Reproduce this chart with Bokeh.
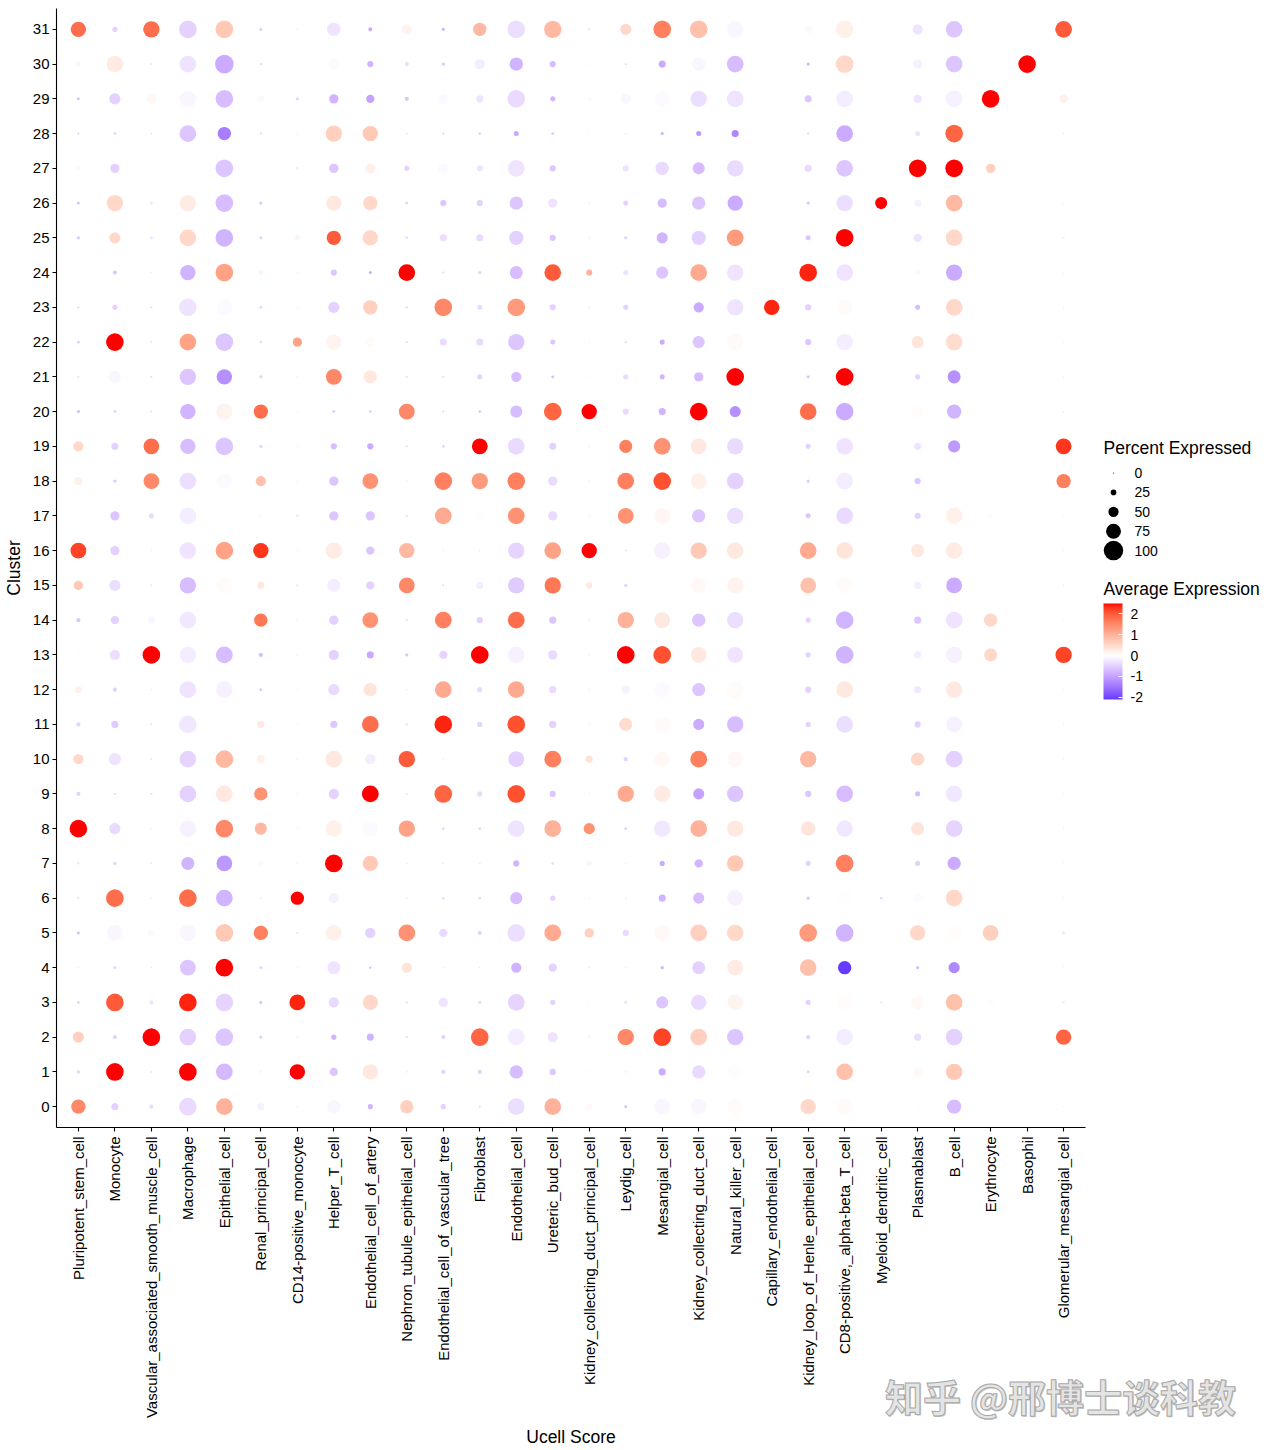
import math
from bokeh.plotting import figure
from bokeh.layouts import column, row
from bokeh.models import (ColumnDataSource, Range1d, LinearColorMapper,
                          ColorBar, FixedTicker, Div)
from bokeh.core.properties import value
from bokeh.embed import file_html
from bokeh.resources import INLINE

# ---------------- data ----------------
cell_types = [
    "Pluripotent_stem_cell", "Monocyte", "Vascular_associated_smooth_muscle_cell",
    "Macrophage", "Epithelial_cell", "Renal_principal_cell", "CD14-positive_monocyte",
    "Helper_T_cell", "Endothelial_cell_of_artery", "Nephron_tubule_epithelial_cell",
    "Endothelial_cell_of_vascular_tree", "Fibroblast", "Endothelial_cell",
    "Ureteric_bud_cell", "Kidney_collecting_duct_principal_cell", "Leydig_cell",
    "Mesangial_cell", "Kidney_collecting_duct_cell", "Natural_killer_cell",
    "Capillary_endothelial_cell", "Kidney_loop_of_Henle_epithelial_cell",
    "CD8-positive,_alpha-beta_T_cell", "Myeloid_dendritic_cell", "Plasmablast",
    "B_cell", "Erythrocyte", "Basophil", "Glomerular_mesangial_cell",
]
clusters = [str(i) for i in range(32)]

# percent expressed, one row per cluster (0..31), columns follow cell_types
pct_expressed = [
    [72, 33, 17, 90, 85, 33, 3, 67, 22, 67, 22, 6, 85, 85, 28, 12, 80, 80, 80, 1, 78, 80, 1, 33, 72, 1, 1, 3],
    [12, 90, 6, 90, 85, 3, 78, 40, 78, 3, 17, 17, 67, 28, 3, 3, 33, 67, 78, 1, 10, 85, 1, 40, 83, 1, 1, 3],
    [55, 17, 90, 85, 90, 10, 3, 22, 33, 6, 17, 90, 85, 50, 3, 83, 90, 85, 83, 1, 17, 83, 1, 33, 85, 1, 1, 78],
    [10, 90, 17, 90, 90, 12, 80, 50, 78, 6, 45, 12, 85, 22, 3, 10, 60, 78, 80, 1, 22, 80, 6, 65, 85, 22, 1, 10],
    [3, 10, 3, 80, 90, 10, 3, 65, 6, 50, 3, 3, 50, 40, 4, 3, 12, 65, 80, 1, 85, 67, 1, 12, 55, 1, 1, 3],
    [12, 80, 33, 83, 90, 72, 6, 80, 50, 85, 40, 17, 90, 85, 45, 28, 80, 85, 83, 1, 90, 90, 1, 78, 80, 80, 1, 10],
    [6, 90, 3, 90, 85, 3, 67, 50, 40, 3, 10, 10, 60, 22, 3, 3, 33, 55, 80, 1, 12, 83, 10, 50, 85, 1, 1, 3],
    [6, 12, 6, 65, 80, 22, 10, 90, 78, 3, 4, 4, 28, 10, 22, 3, 22, 40, 83, 1, 22, 90, 1, 22, 67, 1, 1, 3],
    [90, 55, 3, 83, 90, 60, 6, 83, 78, 83, 10, 10, 85, 85, 55, 10, 83, 85, 83, 1, 72, 83, 1, 65, 85, 1, 1, 3],
    [17, 6, 6, 85, 85, 67, 3, 50, 85, 6, 90, 22, 90, 28, 3, 83, 83, 55, 83, 1, 28, 85, 1, 22, 83, 1, 1, 3],
    [50, 60, 6, 85, 90, 40, 3, 85, 50, 83, 3, 33, 80, 85, 33, 17, 78, 85, 80, 1, 83, 60, 1, 67, 85, 1, 1, 3],
    [17, 33, 6, 90, 50, 33, 3, 33, 85, 6, 90, 22, 90, 33, 3, 65, 80, 55, 83, 1, 22, 85, 1, 28, 80, 1, 1, 3],
    [33, 17, 3, 85, 85, 10, 6, 55, 67, 3, 85, 22, 85, 33, 3, 40, 80, 65, 85, 1, 28, 85, 1, 33, 83, 1, 1, 4],
    [33, 50, 90, 83, 85, 17, 10, 50, 33, 12, 40, 90, 85, 45, 3, 90, 90, 80, 80, 1, 22, 90, 1, 33, 83, 65, 1, 83],
    [17, 40, 33, 85, 65, 67, 3, 45, 80, 6, 85, 28, 85, 33, 4, 83, 80, 67, 83, 1, 22, 90, 1, 33, 85, 67, 1, 10],
    [45, 55, 6, 83, 83, 33, 6, 65, 40, 80, 6, 33, 83, 83, 28, 12, 50, 78, 83, 1, 80, 78, 1, 33, 80, 1, 1, 4],
    [80, 45, 3, 85, 90, 78, 3, 83, 40, 78, 3, 3, 83, 85, 78, 6, 83, 83, 85, 1, 85, 85, 1, 65, 85, 1, 1, 4],
    [1, 45, 22, 85, 80, 22, 10, 45, 45, 6, 85, 50, 85, 45, 3, 80, 80, 67, 83, 1, 22, 85, 1, 28, 83, 22, 1, 10],
    [40, 12, 80, 85, 78, 50, 3, 45, 80, 3, 90, 83, 90, 45, 3, 85, 90, 80, 85, 1, 12, 85, 1, 28, 60, 1, 1, 72],
    [50, 33, 80, 78, 90, 12, 3, 28, 28, 6, 10, 80, 85, 33, 4, 65, 85, 80, 83, 1, 22, 85, 1, 33, 60, 1, 1, 80],
    [12, 10, 6, 78, 83, 72, 3, 10, 6, 80, 6, 10, 60, 90, 78, 28, 33, 90, 55, 1, 85, 90, 1, 60, 72, 1, 1, 4],
    [6, 60, 6, 83, 78, 12, 3, 80, 67, 6, 6, 22, 50, 10, 10, 22, 22, 45, 90, 1, 12, 90, 1, 22, 65, 1, 1, 3],
    [12, 90, 6, 85, 90, 10, 45, 78, 50, 6, 33, 33, 83, 22, 3, 6, 22, 60, 85, 1, 28, 83, 1, 60, 85, 1, 1, 4],
    [6, 22, 6, 90, 80, 10, 10, 55, 72, 6, 90, 22, 90, 28, 4, 22, 1, 50, 83, 78, 28, 80, 1, 22, 85, 1, 1, 3],
    [1, 17, 6, 78, 90, 22, 3, 28, 10, 85, 6, 12, 65, 85, 28, 22, 60, 85, 83, 1, 90, 85, 1, 22, 83, 1, 1, 3],
    [12, 55, 12, 85, 90, 12, 22, 72, 78, 10, 33, 33, 72, 28, 10, 12, 55, 72, 85, 1, 22, 90, 1, 40, 85, 1, 1, 6],
    [12, 83, 10, 83, 90, 12, 1, 78, 72, 10, 28, 28, 67, 45, 3, 22, 45, 67, 78, 1, 12, 83, 60, 33, 85, 1, 1, 4],
    [22, 45, 33, 67, 90, 1, 10, 45, 50, 22, 50, 28, 85, 28, 2, 28, 67, 60, 83, 1, 33, 85, 1, 90, 90, 45, 1, 10],
    [6, 10, 4, 85, 67, 6, 17, 83, 78, 4, 6, 10, 22, 10, 3, 3, 12, 22, 33, 1, 6, 85, 1, 22, 90, 2, 1, 3],
    [12, 55, 50, 83, 90, 33, 12, 45, 40, 17, 50, 33, 90, 22, 12, 50, 78, 83, 85, 1, 33, 85, 1, 40, 85, 90, 1, 40],
    [22, 85, 6, 85, 95, 6, 3, 60, 28, 17, 12, 50, 67, 28, 3, 5, 33, 67, 85, 1, 12, 90, 1, 45, 85, 1, 90, 3],
    [78, 22, 83, 90, 90, 10, 3, 67, 17, 50, 12, 67, 90, 88, 6, 55, 90, 90, 85, 1, 40, 90, 1, 50, 85, 1, 2, 85],
]

# scaled average expression, same layout
avg_expression = [
    [1.5, -0.5, -0.4, -0.4, 1.0, -0.15, -0.2, -0.1, -0.8, 0.6, -0.5, -0.4, -0.35, 1.0, 0.1, -0.6, -0.1, -0.1, 0.05, 0, 0.5, 0.08, 0, -0.02, -0.7, 0, 0, -0.2],
    [-0.5, 2.5, -0.3, 2.5, -0.75, -0.3, 2.5, -0.6, 0.3, -0.3, -0.5, -0.5, -0.7, -0.6, -0.2, -0.3, -0.9, -0.4, 0.03, 0, -0.5, 0.8, 0, 0.1, 0.7, 0, 0, -0.2],
    [0.6, -0.5, 2.5, -0.5, -0.6, -0.6, -0.3, -0.8, -0.8, -0.4, -0.5, 1.9, -0.2, -0.3, -0.3, 1.5, 2.2, 0.6, -0.6, 0, -0.5, -0.2, 0, -0.35, -0.5, 0, 0, 1.9],
    [-0.5, 2.0, -0.3, 2.4, -0.45, -0.6, 2.4, -0.4, 0.5, -0.4, -0.3, -0.4, -0.45, -0.5, -0.2, -0.4, -0.6, -0.4, 0.15, 0, -0.5, 0.03, -0.3, 0.1, 0.8, 0.05, 0, -0.2],
    [-0.3, -0.5, -0.3, -0.6, 2.5, -0.5, -0.2, -0.3, -0.8, 0.35, -0.3, -0.3, -0.8, -0.5, -0.3, -0.3, -0.8, -0.5, 0.25, 0, 0.8, -2.1, 0, -0.7, -1.3, 0, 0, -0.2],
    [-0.6, -0.1, -0.05, -0.1, 0.7, 1.6, -0.3, 0.2, -0.5, 1.4, -0.4, -0.5, -0.35, 1.1, 0.6, -0.4, 0.1, 0.6, 0.5, 0, 1.3, -0.8, 0, 0.5, 0.03, 0.6, 0, -0.3],
    [-0.4, 1.8, -0.2, 1.8, -0.8, -0.3, 2.5, -0.15, 0.0, -0.3, -0.4, -0.4, -0.7, -0.5, -0.2, -0.3, -0.8, -0.7, -0.15, 0, -0.6, -0.02, -0.4, -0.03, 0.5, 0, 0, -0.2],
    [-0.4, -0.5, -0.3, -0.8, -1.1, -0.05, -0.1, 2.5, 0.7, -0.3, -0.3, -0.3, -0.8, -0.4, 0.15, -0.3, -0.9, -0.8, 0.7, 0, -0.5, 1.6, 0, -0.5, -0.9, 0, 0, -0.2],
    [2.5, -0.4, -0.3, -0.15, 1.5, 0.9, -0.1, 0.2, -0.05, 1.2, -0.4, -0.5, -0.3, 1.0, 1.4, -0.5, -0.25, 1.0, 0.3, 0, 0.35, -0.25, 0, 0.35, -0.45, 0, 0, -0.2],
    [-0.5, -0.4, -0.4, -0.5, 0.3, 1.4, -0.2, -0.5, 2.5, -0.3, 1.9, -0.4, 2.1, -0.6, -0.2, 1.1, 0.25, -1.0, -0.6, 0, -0.6, -0.7, 0, -0.7, -0.25, 0, 0, -0.2],
    [0.5, -0.3, -0.3, -0.45, 0.9, 0.2, -0.2, 0.3, -0.2, 2.0, -0.2, 0.02, -0.5, 1.6, 0.4, -0.5, 0.1, 1.6, 0.1, 0, 0.9, 0.0, 0, 0.5, -0.5, 0, 0, -0.2],
    [-0.5, -0.55, -0.3, -0.25, 0.0, 0.3, -0.2, -0.6, 1.8, -0.4, 2.4, -0.45, 2.1, -0.5, -0.2, 0.45, 0.07, -0.9, -0.7, 0, -0.5, -0.35, 0, -0.5, -0.15, 0, 0, -0.2],
    [0.2, -0.5, -0.3, -0.3, -0.15, -0.6, -0.1, -0.4, 0.35, -0.3, 1.1, -0.4, 1.1, -0.4, -0.2, -0.15, -0.05, -0.6, 0.05, 0, -0.5, 0.3, 0, -0.25, 0.3, 0, 0, -0.2],
    [-0.02, -0.35, 2.5, -0.2, -0.7, -0.7, -0.1, -0.5, -0.9, -0.6, -0.45, 2.5, -0.15, -0.4, -0.2, 2.5, 2.1, 0.3, -0.3, 0, -0.5, -0.8, 0, -0.2, -0.15, 0.5, 0, 2.2],
    [-0.6, -0.5, -0.1, -0.25, 0.0, 1.7, -0.2, -0.5, 1.4, -0.4, 1.6, -0.5, 1.8, -0.6, -0.2, 1.0, 0.3, -0.6, -0.35, 0, -0.5, -0.8, 0, -0.6, -0.3, 0.5, 0, -0.05],
    [0.7, -0.35, -0.3, -0.7, 0.05, 0.3, -0.3, -0.2, -0.5, 1.5, -0.4, -0.2, -0.55, 1.7, 0.3, -0.5, 0.0, 0.1, 0.15, 0, 0.8, 0.05, 0, -0.2, -0.9, 0, 0, -0.2],
    [2.2, -0.5, -0.3, -0.3, 1.2, 2.3, -0.2, 0.25, -0.6, 0.9, -0.3, -0.3, -0.45, 1.2, 2.5, -0.3, -0.15, 0.7, 0.3, 0, 1.1, 0.35, 0, 0.3, 0.25, 0, 0, -0.2],
    [0, -0.6, -0.4, -0.2, 0.0, -0.05, -0.3, -0.6, -0.6, -0.4, 1.1, 0.03, 1.4, -0.4, -0.2, 1.4, 0.12, -0.6, -0.35, 0, -0.6, -0.4, 0, -0.5, 0.2, 0.05, 0, -0.05],
    [0.2, -0.6, 1.5, -0.35, -0.05, 0.8, -0.2, -0.6, 1.4, -0.3, 1.6, 1.3, 1.6, -0.4, -0.2, 1.6, 2.1, 0.2, -0.5, 0, -0.6, -0.2, 0, -0.6, 0.0, 0, 0, 1.6],
    [0.5, -0.5, 1.8, -0.7, -0.6, -0.5, -0.2, -0.7, -0.9, -0.4, -0.5, 2.5, -0.4, -0.5, -0.2, 1.6, 1.4, 0.3, -0.4, 0, -0.5, -0.3, 0, -0.3, -1.1, 0, 0, 2.3],
    [-0.7, -0.5, -0.4, -0.8, 0.15, 1.8, -0.2, -0.6, -0.8, 1.5, -0.4, -0.6, -0.7, 1.9, 2.5, -0.4, -0.8, 2.5, -1.2, 0, 1.8, -0.9, 0, 0.05, -0.8, 0, 0, -0.3],
    [-0.4, -0.1, -0.4, -0.6, -1.2, -0.5, -0.2, 1.5, 0.3, -0.4, -0.4, -0.5, -0.7, -0.7, -0.05, -0.4, -0.8, -0.7, 2.5, 0, -0.6, 2.5, 0, -0.5, -1.2, 0, 0, -0.2],
    [-0.5, 2.5, -0.3, 1.2, -0.6, -0.4, 1.2, 0.15, 0.05, -0.4, -0.4, -0.4, -0.6, -0.6, -0.2, -0.5, -0.9, -0.6, 0.08, 0, -0.6, -0.2, 0, 0.35, 0.45, 0, 0, -0.2],
    [-0.5, -0.5, -0.4, -0.3, -0.05, -0.5, -0.05, -0.5, 0.6, -0.5, 1.5, -0.4, 1.3, -0.5, -0.3, -0.5, 0, -0.9, -0.3, 2.4, -0.5, 0.05, 0, -0.7, 0.5, 0, 0, -0.2],
    [0, -0.6, -0.2, -0.8, 1.2, 0.15, -0.2, -0.6, -1.0, 2.5, -0.4, -0.5, -0.7, 2.0, 1.0, -0.3, -0.6, 1.1, -0.3, 0, 2.4, -0.3, 0, -0.05, -0.9, 0, 0, -0.2],
    [-0.6, 0.5, -0.3, 0.5, -0.8, -0.5, 0.15, 2.0, 0.5, -0.4, -0.35, -0.4, -0.5, -0.6, -0.1, -0.5, -0.8, -0.5, 1.3, 0, -0.6, 2.5, 0, -0.3, 0.5, 0, 0, -0.2],
    [-0.6, 0.5, -0.3, 0.25, -0.7, -0.6, 0, 0.3, 0.5, -0.5, -0.6, -0.5, -0.6, -0.3, -0.3, -0.5, -0.7, -0.6, -0.9, 0, -0.6, -0.35, 2.5, -0.15, 0.9, 0, 0, -0.2],
    [-0.05, -0.5, 0.0, 0.0, -0.6, 0, -0.2, -0.6, 0.2, -0.5, -0.05, -0.3, -0.3, -0.6, 0, -0.3, -0.4, -0.7, -0.4, 0, -0.4, -0.6, 0, 2.5, 2.5, 0.6, 0, 0.0],
    [-0.5, -0.5, -0.4, -0.6, -1.4, -0.5, -0.05, 0.6, 0.7, -0.4, -0.5, -0.5, -0.9, -0.6, -0.2, -0.3, -0.8, -1.1, -1.3, 0, -0.5, -0.9, 0, -0.3, 1.9, 0, 0, -0.3],
    [-0.6, -0.5, 0.1, -0.1, -0.7, -0.05, -0.5, -0.8, -1.0, -0.6, -0.05, -0.3, -0.4, -0.8, -0.1, -0.1, -0.05, -0.35, -0.3, 0, -0.6, -0.2, 0, -0.3, -0.15, 2.5, 0, 0.2],
    [-0.1, 0.25, -0.3, -0.3, -0.9, -0.5, -0.2, -0.05, -0.8, -0.4, -0.6, -0.2, -0.8, -0.7, -0.2, -0.5, -0.9, -0.1, -0.7, 0, -0.8, 0.5, 0, -0.15, -0.6, 0, 2.5, -0.2],
    [1.8, -0.5, 1.8, -0.5, 0.7, -0.6, -0.2, -0.3, -0.9, 0.15, -0.8, 0.9, -0.35, 0.9, -0.3, 0.5, 1.6, 0.8, -0.1, 0, -0.05, 0.2, 0, -0.3, -0.6, 0, 0, 2.0],
]

legend_percents = [0, 25, 50, 75, 100]
colorbar_ticks = [-2, -1, 0, 1, 2]
watermark = "知乎 @邢博士谈科教"

FONT = "Liberation Sans"


def dot_size(p):
    return 1.0 + 0.185 * p


# ---------- Lab-interpolated blue-white-red palette (ggplot gradient2 style) ----------
def _to_lin(c):
    c /= 255.0
    return c / 12.92 if c <= 0.04045 else ((c + 0.055) / 1.055) ** 2.4


def _to_srgb(c):
    c = min(1.0, max(0.0, c))
    v = 12.92 * c if c <= 0.0031308 else 1.055 * c ** (1 / 2.4) - 0.055
    return int(round(v * 255))


def hex_to_lab(h):
    r, g, b = [_to_lin(int(h[i:i + 2], 16)) for i in (1, 3, 5)]
    X = (0.4124564 * r + 0.3575761 * g + 0.1804375 * b) / 0.95047
    Y = 0.2126729 * r + 0.7151522 * g + 0.0721750 * b
    Z = (0.0193339 * r + 0.1191920 * g + 0.9503041 * b) / 1.08883

    def f(t):
        return t ** (1 / 3) if t > 0.008856 else 7.787 * t + 16 / 116
    fx, fy, fz = f(X), f(Y), f(Z)
    return 116 * fy - 16, 500 * (fx - fy), 200 * (fy - fz)


def lab_to_hex(L, a, b):
    fy = (L + 16) / 116
    fx = fy + a / 500
    fz = fy - b / 200

    def finv(t):
        return t ** 3 if t ** 3 > 0.008856 else (t - 16 / 116) / 7.787
    X, Y, Z = finv(fx) * 0.95047, finv(fy), finv(fz) * 1.08883
    r = 3.2404542 * X - 1.5371385 * Y - 0.4985314 * Z
    g = -0.9692660 * X + 1.8760108 * Y + 0.0415560 * Z
    bb = 0.0556434 * X - 0.2040259 * Y + 1.0572252 * Z
    return "#%02x%02x%02x" % (_to_srgb(r), _to_srgb(g), _to_srgb(bb))


low_lab, mid_lab, high_lab = hex_to_lab("#0000FF"), hex_to_lab("#FFFFFF"), hex_to_lab("#FF0000")
N = 255
palette = []
for i in range(N):
    t = i / (N - 1)
    if t <= 0.5:
        s, a0, a1 = t / 0.5, low_lab, mid_lab
    else:
        s, a0, a1 = (t - 0.5) / 0.5, mid_lab, high_lab
    palette.append(lab_to_hex(*[a0[k] + (a1[k] - a0[k]) * s for k in range(3)]))

# ---------------- long-format table ----------------
xpos = list(range(1, len(cell_types) + 1))      # ggplot-style discrete positions
ypos = list(range(len(clusters)))
xs, ys, ps, es, sz = [], [], [], [], []
for ci in range(len(clusters)):
    assert len(pct_expressed[ci]) == len(cell_types), ("pct", ci)
    assert len(avg_expression[ci]) == len(cell_types), ("expr", ci)
    for ti in range(len(cell_types)):
        xs.append(xpos[ti])
        ys.append(ypos[ci])
        ps.append(pct_expressed[ci][ti])
        es.append(avg_expression[ci][ti])
        sz.append(dot_size(pct_expressed[ci][ti]))

src = ColumnDataSource(dict(x=xs, y=ys, pct=ps, expr=es, size=sz))

emax = max(abs(e) for e in es)
emin_data, emax_data = min(es), max(es)
mapper = LinearColorMapper(palette=palette, low=-emax, high=emax)

# ---------------- geometry ----------------
W, H = 1269, 1450
MAIN_W = 1095               # width of the dot-plot figure; legend figure fills the rest
FX0, FY0 = 53, 8            # frame left / top on the page
FX1, FY1 = 1085, 1127       # frame right / bottom on the page
x_lo, x_hi = 0.4, len(cell_types) + 0.6
y_lo, y_hi = -0.6, len(clusters) - 1 + 0.6

# ---------------- main dot plot ----------------
p = figure(
    width=MAIN_W, height=H,
    x_range=Range1d(x_lo, x_hi), y_range=Range1d(y_lo, y_hi),
    output_backend="svg", toolbar_location=None,
    min_border_left=FX0, min_border_top=FY0, min_border_right=MAIN_W - FX1,
    min_border_bottom=H - FY1,
)
p.background_fill_color = "white"
p.border_fill_color = "white"
p.outline_line_color = None
p.xgrid.visible = False
p.ygrid.visible = False

p.scatter("x", "y", size="size", source=src, marker="circle",
          fill_color={"field": "expr", "transform": mapper}, line_color=None)

for ax in (p.xaxis[0], p.yaxis[0]):
    ax.axis_line_color = "black"
    ax.axis_line_width = 1.1
    ax.major_tick_line_color = "black"
    ax.major_tick_line_width = 1.1
    ax.major_tick_out = 4
    ax.major_tick_in = 0
    ax.minor_tick_line_color = None
    ax.major_label_text_font = FONT
    ax.major_label_text_font_size = "15px"
    ax.major_label_text_color = "black"
    ax.axis_label_text_font = FONT
    ax.axis_label_text_font_size = "17.5px"
    ax.axis_label_text_font_style = "normal"
    ax.axis_label_text_color = "black"

p.xaxis.ticker = FixedTicker(ticks=xpos)
p.xaxis.major_label_overrides = {xp: name for xp, name in zip(xpos, cell_types)}
p.xaxis.major_label_orientation = math.pi / 2
p.xaxis.major_label_standoff = 5
p.xaxis.axis_label = "Ucell Score"
p.xaxis.axis_label_standoff = 6
p.yaxis.ticker = FixedTicker(ticks=ypos)
p.yaxis.major_label_overrides = {yp: name for yp, name in zip(ypos, clusters)}
p.yaxis.major_label_standoff = 3
p.yaxis.axis_label = "Cluster"
p.yaxis.axis_label_standoff = 6

# ---------------- legend figure (page-pixel coordinates) ----------------
# In a row, Bokeh aligns this figure's frame with the main frame (FY0..FY1).
leg = figure(
    width=W - MAIN_W, height=H,
    x_range=Range1d(MAIN_W, W), y_range=Range1d(FY1, FY0),
    x_axis_type=None, y_axis_type=None,
    output_backend="svg", toolbar_location=None,
    min_border_left=0, min_border_right=0, min_border_top=FY0, min_border_bottom=H - FY1,
)
leg.background_fill_color = "white"
leg.border_fill_color = "white"
leg.outline_line_color = None

LEG_X = 1103
DOT_CX, ROW0, ROW_STEP = 1113, 472.5, 19.4
leg_rows = [ROW0 + ROW_STEP * i for i in range(len(legend_percents))]

leg.text(x=[LEG_X], y=[447], text=["Percent Expressed"],
         text_font=value(FONT), text_font_size="17.5px", text_color="black",
         text_baseline="middle", text_align="left")
leg.scatter(x=[DOT_CX] * len(legend_percents), y=leg_rows,
            size=[dot_size(v) for v in legend_percents],
            marker="circle", fill_color="black", line_color=None)
leg.text(x=[1134] * len(legend_percents), y=leg_rows, text=[str(v) for v in legend_percents],
         text_font=value(FONT), text_font_size="14px", text_color="black",
         text_baseline="middle", text_align="left")

leg.text(x=[LEG_X], y=[588], text=["Average Expression"],
         text_font=value(FONT), text_font_size="17.5px", text_color="black",
         text_baseline="middle", text_align="left")
cb = ColorBar(color_mapper=mapper, display_low=emin_data, display_high=emax_data,
              location=(LEG_X - MAIN_W, FY1 - 699), orientation="vertical",
              width=19, height=96, padding=0, title=None,
              ticker=FixedTicker(ticks=colorbar_ticks),
              major_label_overrides={t: str(t) for t in colorbar_ticks},
              major_label_text_font=FONT, major_label_text_font_size="14px",
              major_label_text_color="black", label_standoff=8,
              major_tick_line_color="white", major_tick_in=4, major_tick_out=0,
              minor_tick_line_color=None, bar_line_color=None,
              border_line_color=None, background_fill_alpha=0)
leg.add_layout(cb)

# ---------------- watermark (overlaid HTML text) ----------------
wm = Div(text=('<span style="font-family:\'Noto Sans CJK SC\';font-size:38px;font-weight:bold;'
               'line-height:38px;color:#e4e4e4;-webkit-text-stroke:1px #a8a8a8;'
               'text-shadow:1px 1px 0 #c8c8c8;white-space:nowrap;">' + watermark + '</span>'),
         width=360, height=40, margin=(-73, 0, 0, 885))

layout = column(row(p, leg, spacing=0), wm, spacing=0)
open("out.html", "w").write(file_html(layout, INLINE))
